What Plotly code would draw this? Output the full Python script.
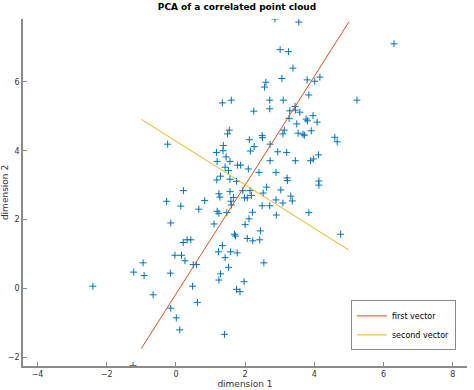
import plotly.graph_objects as go

# point cloud (dimension 1, dimension 2)
pts_x = [2.86, 3.55, 6.30, 3.01, 3.25, 3.38, 3.06, 3.79, 4.16, 4.01,
         2.60, 2.56, 3.84, 1.34, 1.60, 2.71, 3.10, 5.23, 2.25, 2.71,
         3.44, 3.45, 3.29, 3.58, 3.96, 3.76, 3.80, 4.08, 3.27, 3.49,
         1.54, 1.49, 3.13, 3.09, 3.53, 3.67, 3.71, 3.91, 4.59, 4.66,
         2.49, 2.50, 2.12, 2.72, 2.26, 1.37, -0.24, 1.36, 1.17, 1.45,
         1.19, 1.56, 2.15, 2.94, 3.20, 4.12, 3.45, 3.89, 3.97, 2.72,
         1.78, 1.87, 1.42, 1.52, 2.09, 2.40, 2.89, 1.29, 1.18, 1.56,
         1.75, 3.21, 3.22, 4.13, 4.13, 2.62, 0.22, 1.56, 1.93, 2.14,
         3.03, 1.24, 1.27, 2.52, 2.18, 1.98, 2.06, 1.66, 3.32, 3.36,
         -0.27, 0.83, 1.59, 2.89, 3.09, 1.60, 0.14, 2.49, 2.71, 0.66,
         1.19, 1.24, 1.47, 2.21, 3.84, 2.90, 2.11, -0.15, 1.10, 2.00,
         2.44, 1.69, 1.72, 4.76, 2.06, 2.22, 2.42, 0.32, 0.43, 0.21,
         1.34, 1.23, 1.58, 1.77, -0.03, 0.16, 0.26, 1.42, 1.52, 0.50,
         0.59, -0.95, 2.54, -1.22, -0.16, -0.92, 1.29, 1.24, 1.97, -2.40,
         0.48, 1.75, 1.85, -0.66, 0.62, -0.15, 0.01, 0.11, 1.40, -1.24]
pts_y = [7.83, 7.74, 7.11, 6.94, 6.88, 6.40, 6.10, 6.06, 6.14, 6.02,
         5.99, 5.85, 5.62, 5.39, 5.47, 5.47, 5.47, 5.47, 5.15, 5.22,
         5.29, 5.18, 5.16, 5.12, 5.02, 4.92, 4.87, 4.83, 4.94, 4.78,
         4.60, 4.49, 4.60, 4.49, 4.51, 4.48, 4.45, 4.58, 4.39, 4.26,
         4.44, 4.38, 4.32, 4.19, 4.12, 4.15, 4.19, 4.00, 3.95, 3.82,
         3.69, 3.69, 3.99, 3.97, 3.95, 3.88, 3.71, 3.71, 3.76, 3.71,
         3.58, 3.58, 3.52, 3.42, 3.47, 3.37, 3.37, 3.26, 3.15, 3.17,
         3.11, 3.21, 3.13, 3.12, 3.00, 2.94, 2.84, 2.81, 2.84, 2.84,
         2.86, 2.75, 2.65, 2.77, 2.70, 2.63, 2.63, 2.64, 2.68, 2.54,
         2.53, 2.55, 2.53, 2.57, 2.48, 2.42, 2.39, 2.40, 2.40, 2.30,
         2.24, 2.18, 2.20, 2.21, 2.20, 2.13, 2.02, 1.90, 1.87, 1.85,
         1.67, 1.57, 1.52, 1.57, 1.45, 1.38, 1.41, 1.41, 1.41, 1.33,
         1.24, 1.06, 1.06, 1.03, 0.96, 0.96, 0.80, 0.89, 0.61, 0.69,
         0.69, 0.74, 0.74, 0.47, 0.44, 0.37, 0.42, 0.24, 0.19, 0.06,
         0.06, -0.03, -0.10, -0.19, -0.41, -0.58, -0.86, -1.21, -1.34, -2.25]

# principal directions drawn through the mean
first_vec_x = [-1.0, 5.0]
first_vec_y = [-1.75, 7.75]
second_vec_x = [-1.0, 5.0]
second_vec_y = [4.91, 1.11]

x_ticks = [-4, -2, 0, 2, 4, 6, 8]
y_ticks = [-2, 0, 2, 4, 6]

BLUE = "#0072BD"
RED = "#D95319"
YELLOW = "#EDB120"
FONT = "DejaVu Sans"

fig = go.Figure()
fig.add_trace(go.Scatter(
    x=pts_x, y=pts_y, mode="markers", showlegend=False,
    marker=dict(symbol="cross-thin", size=5, color=BLUE,
                line=dict(color=BLUE, width=1))))
fig.add_trace(go.Scatter(
    x=first_vec_x, y=first_vec_y, mode="lines", name="first vector",
    line=dict(color=RED, width=1)))
fig.add_trace(go.Scatter(
    x=second_vec_x, y=second_vec_y, mode="lines", name="second vector",
    line=dict(color=YELLOW, width=1)))

axis_common = dict(
    showgrid=False, zeroline=False, showline=True, linecolor="#8a8a8a",
    linewidth=1.5, ticks="inside", ticklen=4, tickcolor="#8a8a8a",
    tickfont=dict(family=FONT, size=8, color="#333333"), mirror=False,
    automargin=False)

fig.update_layout(
    width=474, height=390,
    margin=dict(l=23, r=7, t=19, b=24),
    paper_bgcolor="white", plot_bgcolor="white",
    title=dict(text="<b>PCA of a correlated point cloud</b>", x=0.5, xanchor="center",
               y=1 - 7 / 390, yanchor="middle",
               font=dict(family=FONT, size=9, color="black")),
    xaxis=dict(range=[-4.42, 8.41], tickvals=x_ticks,
               title=dict(text="dimension 1", standoff=0,
                          font=dict(family=FONT, size=9, color="#333333")),
               **axis_common),
    yaxis=dict(range=[-2.26, 7.83], tickvals=y_ticks,
               title=dict(text="dimension 2", standoff=0,
                          font=dict(family=FONT, size=9, color="#333333")),
               **axis_common),
    legend=dict(x=0.975, y=0.045, xanchor="right", yanchor="bottom",
                bgcolor="white", bordercolor="#8a8a8a", borderwidth=1,
                font=dict(family=FONT, size=8, color="black"),
                itemwidth=30, tracegroupgap=0),
)

fig.write_html("out.html", config={"displayModeBar": False},
               post_script="document.body.style.margin='0';document.body.style.overflow='hidden';")
